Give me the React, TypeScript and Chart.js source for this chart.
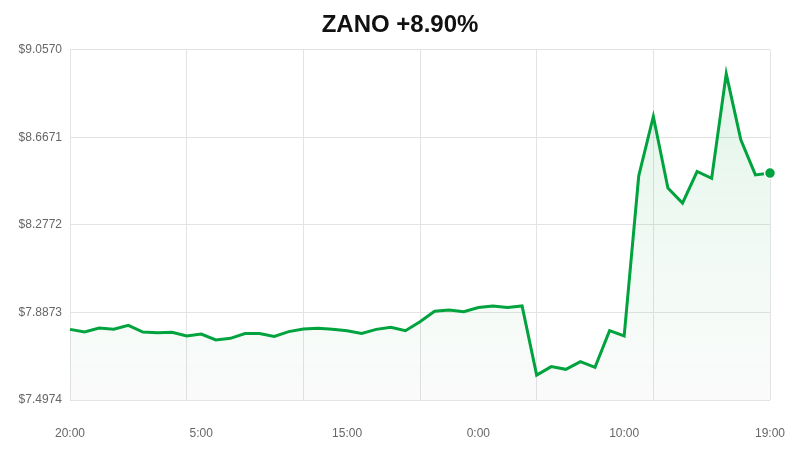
import React, { useEffect, useRef } from "react";
import { Chart, registerables } from "chart.js";

Chart.register(...registerables);

const titleText = "ZANO +8.90%";
const prices: number[] = [
  7.812, 7.800, 7.818, 7.813, 7.830, 7.800, 7.797, 7.799, 7.783, 7.791,
  7.765, 7.772, 7.793, 7.793, 7.780, 7.802, 7.814, 7.817, 7.812, 7.806,
  7.794, 7.812, 7.821, 7.806, 7.846, 7.893, 7.898, 7.891, 7.909, 7.916,
  7.909, 7.916, 7.608, 7.646, 7.634, 7.668, 7.643, 7.806, 7.783, 8.496,
  8.760, 8.441, 8.374, 8.515, 8.485, 8.950, 8.656, 8.500, 8.508,
];
const timeLabelIndex: number[] = [0, 9, 19, 28, 38, 48];
const timeLabels: string[] = ["20:00", "5:00", "15:00", "0:00", "10:00", "19:00"];
const yTicks: number[] = [7.4974, 7.8873, 8.2772, 8.6671, 9.057];

const GREEN = "#00a33e";

export default function App() {
  const ref = useRef<HTMLCanvasElement | null>(null);
  useEffect(() => {
    if (!ref.current) return;
    const data = prices.map((p, i) => ({ x: i, y: p }));
    const last = prices.length - 1;
    const gridIdx: number[] = [];
    for (let i = 0; i <= last; i += 8) gridIdx.push(i);
    const allTicks = Array.from(new Set([...gridIdx, ...timeLabelIndex])).sort((a, b) => a - b);
    const chart = new Chart(ref.current, {
      type: "line",
      data: {
        datasets: [
          {
            data,
            clip: false,
            borderColor: GREEN,
            borderWidth: 3,
            tension: 0,
            fill: "start",
            backgroundColor: (ctx: any) => {
              const ca = ctx.chart.chartArea;
              if (!ca) return "rgba(0,0,0,0)";
              const g = ctx.chart.ctx.createLinearGradient(0, ca.top, 0, ca.bottom);
              g.addColorStop(0, "rgba(0,163,62,0.12)");
              g.addColorStop(0.6, "rgba(0,163,62,0.05)");
              g.addColorStop(1, "rgba(180,180,180,0.06)");
              return g;
            },
            pointRadius: (ctx: any) => (ctx.dataIndex === last ? 5.5 : 0),
            pointHoverRadius: 0,
            pointBackgroundColor: GREEN,
            pointBorderColor: "#ffffff",
            pointBorderWidth: 1.5,
          },
        ],
      },
      options: {
        animation: false,
        responsive: false,
        maintainAspectRatio: false,
        layout: { padding: 0 },
        plugins: {
          legend: { display: false },
          tooltip: { enabled: false },
          title: {
            display: true,
            text: titleText,
            color: "#111111",
            font: { family: "'Liberation Sans', Arial, sans-serif", size: 24, weight: "bold" },
            padding: { top: 11, bottom: 10 },
          },
        },
        scales: {
          x: {
            type: "linear",
            min: 0,
            max: last,
            afterBuildTicks: (scale: any) => {
              scale.ticks = allTicks.map((v) => ({ value: v }));
            },
            afterFit: (scale: any) => {
              scale.height = 50;
              scale.paddingRight = 30;
              scale.paddingLeft = 0;
            },
            ticks: {
              autoSkip: false,
              maxRotation: 0,
              padding: 26,
              color: "#666666",
              font: { family: "'Liberation Sans', Arial, sans-serif", size: 12 },
              callback: (v: any) => {
                const k = timeLabelIndex.indexOf(Number(v));
                return k >= 0 ? timeLabels[k] : "";
              },
            },
            grid: {
              drawTicks: false,
              color: (ctx: any) =>
                ctx.tick && Number(ctx.tick.value) % 8 === 0 ? "#e3e3e3" : "rgba(0,0,0,0)",
              lineWidth: 1,
            },
            border: { display: false },
          },
          y: {
            min: yTicks[0],
            max: yTicks[yTicks.length - 1],
            afterBuildTicks: (scale: any) => {
              scale.ticks = yTicks.map((v) => ({ value: v }));
            },
            afterFit: (scale: any) => {
              scale.width = 70;
            },
            ticks: {
              padding: 8,
              color: "#666666",
              font: { family: "'Liberation Sans', Arial, sans-serif", size: 12 },
              callback: (v: any) => "$" + Number(v).toFixed(4),
            },
            grid: { drawTicks: false, color: "#e3e3e3", lineWidth: 1 },
            border: { display: false },
          },
        },
      },
    });
    return () => chart.destroy();
  }, []);
  return (
    <div style={{ position: "fixed", left: 0, top: 0, width: 800, height: 450, background: "#ffffff" }}>
      <canvas ref={ref} width={800} height={450} style={{ display: "block", width: 800, height: 450 }} />
    </div>
  );
}
